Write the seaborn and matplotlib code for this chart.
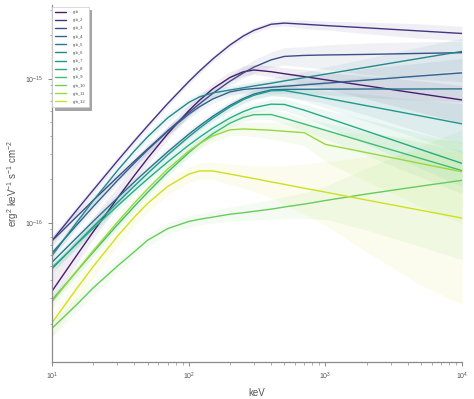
import numpy as np
import pandas as pd
import matplotlib
matplotlib.use("Agg")
import matplotlib.pyplot as plt
import seaborn as sns

# ---------------- data (log10 of nuFnu flux) ----------------
energy_kev = [10, 15, 20, 30, 40, 50, 70, 100, 120, 150, 200, 250, 300, 400, 500, 700, 1000, 2000, 5000, 10000]

series_names = ["grb", "grb_2", "grb_3", "grb_4", "grb_5", "grb_6",
                "grb_7", "grb_8", "grb_9", "grb_10", "grb_11", "grb_12"]

log_grb    = [-16.472, -16.230, -16.061, -15.830, -15.671, -15.552, -15.383, -15.222, -15.149, -15.070, -14.992, -14.953, -14.940, -14.952, -14.966, -14.986, -15.008, -15.050, -15.106, -15.148]
log_grb_2  = [-16.122, -15.916, -15.772, -15.571, -15.432, -15.327, -15.173, -15.020, -14.947, -14.863, -14.767, -14.705, -14.665, -14.623, -14.615, -14.623, -14.632, -14.648, -14.670, -14.687]
log_grb_3  = [-16.124, -15.960, -15.844, -15.684, -15.572, -15.487, -15.362, -15.235, -15.174, -15.102, -15.018, -14.961, -14.920, -14.870, -14.846, -14.839, -14.836, -14.832, -14.825, -14.820]
log_grb_4  = [-16.208, -16.019, -15.887, -15.707, -15.585, -15.494, -15.366, -15.247, -15.194, -15.141, -15.092, -15.075, -15.069, -15.060, -15.053, -15.043, -15.032, -15.010, -14.981, -14.960]
log_grb_5  = [-16.272, -16.106, -15.989, -15.828, -15.716, -15.631, -15.508, -15.385, -15.327, -15.261, -15.186, -15.138, -15.107, -15.078, -15.075, -15.074, -15.073, -15.072, -15.072, -15.071]
log_grb_6  = [-16.226, -16.001, -15.846, -15.638, -15.501, -15.403, -15.272, -15.165, -15.126, -15.099, -15.079, -15.064, -15.051, -15.032, -15.016, -14.993, -14.969, -14.921, -14.858, -14.811]
log_grb_7  = [-16.318, -16.147, -16.026, -15.860, -15.744, -15.657, -15.529, -15.403, -15.343, -15.274, -15.196, -15.146, -15.115, -15.084, -15.082, -15.106, -15.134, -15.188, -15.259, -15.314]
log_grb_8  = [-16.309, -16.150, -16.038, -15.883, -15.776, -15.695, -15.578, -15.461, -15.406, -15.343, -15.273, -15.229, -15.201, -15.177, -15.179, -15.219, -15.268, -15.364, -15.492, -15.588]
log_grb_9  = [-16.535, -16.339, -16.202, -16.014, -15.885, -15.788, -15.648, -15.513, -15.451, -15.382, -15.309, -15.269, -15.250, -15.249, -15.274, -15.315, -15.358, -15.443, -15.554, -15.638]
log_grb_10 = [-16.730, -16.570, -16.450, -16.300, -16.200, -16.120, -16.040, -15.990, -15.975, -15.960, -15.940, -15.930, -15.920, -15.905, -15.890, -15.870, -15.845, -15.800, -15.745, -15.705]
log_grb_11 = [-16.546, -16.338, -16.193, -15.996, -15.862, -15.764, -15.627, -15.503, -15.450, -15.397, -15.355, -15.349, -15.352, -15.358, -15.365, -15.375, -15.456, -15.513, -15.589, -15.646]
log_grb_12 = [-16.692, -16.460, -16.302, -16.094, -15.959, -15.865, -15.747, -15.662, -15.640, -15.640, -15.662, -15.679, -15.693, -15.716, -15.733, -15.760, -15.787, -15.842, -15.913, -15.967]

# band widths below / above each curve (dex)
lo_grb    = [0.06, 0.06, 0.05, 0.05, 0.045, 0.04, 0.04, 0.03, 0.03, 0.03, 0.03, 0.03, 0.03, 0.035, 0.04, 0.05, 0.06, 0.09, 0.13, 0.16]
hi_grb    = [0.13, 0.12, 0.10, 0.08, 0.07, 0.06, 0.05, 0.04, 0.04, 0.04, 0.04, 0.04, 0.04, 0.04, 0.04, 0.05, 0.05, 0.07, 0.09, 0.10]
lo_grb_2  = [0.03, 0.03, 0.03, 0.03, 0.025, 0.02, 0.02, 0.02, 0.02, 0.02, 0.02, 0.02, 0.02, 0.02, 0.02, 0.03, 0.03, 0.04, 0.05, 0.05]
hi_grb_2  = [0.03, 0.03, 0.03, 0.03, 0.025, 0.02, 0.02, 0.02, 0.02, 0.02, 0.02, 0.02, 0.02, 0.02, 0.02, 0.03, 0.03, 0.04, 0.05, 0.05]
lo_grb_3  = [0.04, 0.04, 0.03, 0.03, 0.03, 0.03, 0.03, 0.03, 0.03, 0.03, 0.03, 0.035, 0.04, 0.05, 0.06, 0.08, 0.10, 0.14, 0.18, 0.20]
hi_grb_3  = [0.04, 0.04, 0.03, 0.03, 0.03, 0.03, 0.03, 0.03, 0.03, 0.03, 0.04, 0.045, 0.05, 0.055, 0.06, 0.06, 0.07, 0.08, 0.08, 0.08]
lo_grb_4  = [0.03, 0.03, 0.03, 0.03, 0.03, 0.03, 0.03, 0.03, 0.03, 0.03, 0.03, 0.03, 0.04, 0.045, 0.05, 0.06, 0.08, 0.12, 0.17, 0.20]
hi_grb_4  = [0.03, 0.03, 0.03, 0.03, 0.03, 0.03, 0.03, 0.03, 0.03, 0.03, 0.03, 0.03, 0.04, 0.045, 0.05, 0.05, 0.06, 0.08, 0.09, 0.10]
lo_grb_5  = [0.03, 0.03, 0.03, 0.03, 0.03, 0.03, 0.03, 0.03, 0.03, 0.03, 0.03, 0.03, 0.03, 0.04, 0.05, 0.07, 0.10, 0.18, 0.30, 0.38]
hi_grb_5  = [0.03, 0.03, 0.03, 0.03, 0.03, 0.03, 0.03, 0.03, 0.03, 0.03, 0.03, 0.03, 0.03, 0.035, 0.04, 0.05, 0.06, 0.08, 0.10, 0.12]
lo_grb_6  = [0.03, 0.03, 0.03, 0.03, 0.03, 0.03, 0.03, 0.03, 0.03, 0.03, 0.03, 0.035, 0.04, 0.045, 0.05, 0.06, 0.07, 0.09, 0.11, 0.13]
hi_grb_6  = [0.03, 0.03, 0.03, 0.03, 0.03, 0.03, 0.03, 0.03, 0.03, 0.03, 0.03, 0.03, 0.03, 0.035, 0.04, 0.04, 0.05, 0.06, 0.08, 0.09]
lo_grb_7  = [0.03, 0.03, 0.03, 0.03, 0.03, 0.03, 0.03, 0.03, 0.03, 0.03, 0.03, 0.03, 0.03, 0.035, 0.04, 0.05, 0.07, 0.11, 0.16, 0.20]
hi_grb_7  = [0.03, 0.03, 0.03, 0.03, 0.03, 0.03, 0.03, 0.03, 0.03, 0.03, 0.03, 0.03, 0.03, 0.035, 0.04, 0.04, 0.05, 0.08, 0.11, 0.14]
lo_grb_8  = [0.03, 0.03, 0.03, 0.03, 0.03, 0.03, 0.03, 0.03, 0.03, 0.03, 0.03, 0.03, 0.03, 0.035, 0.04, 0.05, 0.06, 0.09, 0.13, 0.16]
hi_grb_8  = [0.03, 0.03, 0.03, 0.03, 0.03, 0.03, 0.03, 0.03, 0.03, 0.03, 0.03, 0.03, 0.03, 0.035, 0.04, 0.04, 0.05, 0.08, 0.11, 0.14]
lo_grb_9  = [0.03, 0.03, 0.03, 0.03, 0.03, 0.03, 0.03, 0.03, 0.03, 0.03, 0.03, 0.03, 0.03, 0.035, 0.04, 0.05, 0.06, 0.09, 0.13, 0.16]
hi_grb_9  = [0.03, 0.03, 0.03, 0.03, 0.03, 0.03, 0.03, 0.03, 0.03, 0.03, 0.03, 0.03, 0.03, 0.035, 0.04, 0.04, 0.05, 0.08, 0.11, 0.14]
lo_grb_10 = [0.06, 0.05, 0.05, 0.04, 0.04, 0.04, 0.04, 0.04, 0.04, 0.04, 0.05, 0.055, 0.06, 0.07, 0.08, 0.10, 0.13, 0.25, 0.42, 0.55]
hi_grb_10 = [0.05, 0.05, 0.04, 0.04, 0.04, 0.04, 0.04, 0.04, 0.04, 0.04, 0.05, 0.055, 0.06, 0.065, 0.07, 0.08, 0.10, 0.18, 0.28, 0.35]
lo_grb_11 = [0.05, 0.05, 0.04, 0.04, 0.04, 0.04, 0.04, 0.04, 0.04, 0.04, 0.04, 0.045, 0.05, 0.06, 0.07, 0.09, 0.12, 0.20, 0.30, 0.36]
hi_grb_11 = [0.04, 0.04, 0.04, 0.04, 0.035, 0.03, 0.03, 0.03, 0.03, 0.03, 0.04, 0.045, 0.05, 0.055, 0.06, 0.07, 0.09, 0.13, 0.18, 0.21]
lo_grb_12 = [0.10, 0.09, 0.08, 0.07, 0.065, 0.06, 0.06, 0.06, 0.06, 0.06, 0.07, 0.08, 0.09, 0.11, 0.14, 0.18, 0.23, 0.36, 0.52, 0.60]
hi_grb_12 = [0.06, 0.06, 0.05, 0.05, 0.05, 0.05, 0.05, 0.05, 0.055, 0.06, 0.07, 0.08, 0.09, 0.11, 0.13, 0.17, 0.21, 0.30, 0.40, 0.46]

x_ticks = [10, 100, 1000, 10000]
y_ticks = [1e-16, 1e-15]

centers = [log_grb, log_grb_2, log_grb_3, log_grb_4, log_grb_5, log_grb_6,
           log_grb_7, log_grb_8, log_grb_9, log_grb_10, log_grb_11, log_grb_12]
lows = [lo_grb, lo_grb_2, lo_grb_3, lo_grb_4, lo_grb_5, lo_grb_6,
        lo_grb_7, lo_grb_8, lo_grb_9, lo_grb_10, lo_grb_11, lo_grb_12]
highs = [hi_grb, hi_grb_2, hi_grb_3, hi_grb_4, hi_grb_5, hi_grb_6,
         hi_grb_7, hi_grb_8, hi_grb_9, hi_grb_10, hi_grb_11, hi_grb_12]

# ---------------- style ----------------
sns.set_theme(style="ticks")
plt.rcParams["font.family"] = ["Liberation Sans", "DejaVu Sans"]
plt.rcParams["mathtext.fontset"] = "custom"
plt.rcParams["mathtext.rm"] = "Liberation Sans"
plt.rcParams["mathtext.it"] = "Liberation Sans:italic"

palette = sns.color_palette("viridis", len(series_names))

rows = []
for name, c in zip(series_names, centers):
    for e, v in zip(energy_kev, c):
        rows.append({"energy": e, "flux": 10.0 ** v, "series": name})
df = pd.DataFrame(rows)

fig = plt.figure(figsize=(4.74, 3.99), dpi=100)
ax = fig.add_axes([0.110, 0.0935, 0.865, 0.894])

E = np.array(energy_kev, dtype=float)
for col, c, lo, hi in zip(palette, centers, lows, highs):
    c = np.array(c)
    ax.fill_between(E, 10.0 ** (c - np.array(lo)), 10.0 ** (c + np.array(hi)),
                    color=col, alpha=0.08, lw=0)

sns.lineplot(data=df, x="energy", y="flux", hue="series", hue_order=series_names,
             palette=palette, estimator=None, sort=True, lw=1.0, ax=ax)

ax.set_xscale("log")
ax.set_yscale("log")
ax.set_xticks(x_ticks)
ax.set_yticks(y_ticks)
ax.set_xlim(10, 1e4)
ax.set_ylim(1.09e-17, 3.24e-15)

for s in ["top", "right"]:
    ax.spines[s].set_visible(False)
for s in ["left", "bottom"]:
    ax.spines[s].set_color("#8a8a8a")
    ax.spines[s].set_linewidth(0.9)
ax.tick_params(axis="both", which="major", labelsize=5, colors="#8a8a8a",
               labelcolor="#555555", length=3, width=0.7, direction="out")
ax.tick_params(axis="both", which="minor", colors="#8a8a8a", length=1.8, width=0.5,
               direction="out", labelleft=False, labelbottom=False)

ax.set_xlabel("keV", fontsize=7, color="#555555")
ax.set_ylabel(r"erg$^{2}$ keV$^{-1}$ s$^{-1}$ cm$^{-2}$", fontsize=7, color="#555555")
ax.yaxis.set_label_coords(-0.076, 0.5)

leg = ax.legend(loc="upper left", bbox_to_anchor=(0.0, 0.995), fontsize=3,
                frameon=True, shadow=True, labelspacing=1.0, handlelength=2.6,
                handletextpad=1.5, borderpad=0.8, borderaxespad=0.0, fancybox=False)
leg.get_frame().set_edgecolor("#cccccc")
leg.get_frame().set_linewidth(0.5)
for t in leg.get_texts():
    t.set_color("#444444")
for h in leg.get_lines():
    h.set_linewidth(1.0)

fig.savefig("out.png", dpi=100)
